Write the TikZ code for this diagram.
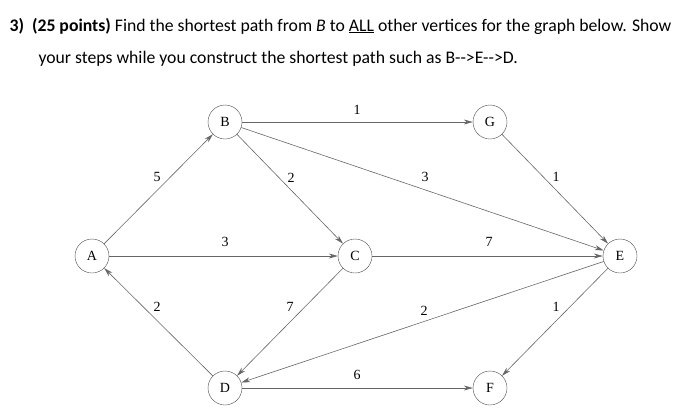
\documentclass[tikz,border=0pt]{standalone}
\usepackage{fontspec}
\setmainfont{Liberation Serif}
\newfontfamily\qfont{Carlito}
\usetikzlibrary{arrows.meta}
\begin{document}
\begin{tikzpicture}[x=1pt,y=-1pt,
 vtx/.style={circle,draw=black!70,minimum size=34pt,inner sep=0pt,font=\fontsize{14}{14}\selectfont,fill=white},
 edge/.style={draw=black!60,line width=0.6pt,-{Stealth[length=9pt,width=5pt,fill=black!60]}},
 wt/.style={font=\fontsize{14}{14}\selectfont}]
\useasboundingbox (0,0) rectangle (699,413);
\node[anchor=west,font=\qfont\fontsize{17.7}{17.7}\selectfont] (q1) at (6,26) {\textbf{3)\ \ (25 points)} Find the shortest path from \textit{B} to \underline{ALL} other vertices for the graph below. Show};
\node[anchor=west,font=\qfont\fontsize{17.7}{17.7}\selectfont] (q2) at (35,59) {your steps while you construct the shortest path such as B-->E-->D.};
\node[vtx] (A) at (92,256) {A};
\node[vtx] (B) at (225,122) {B};
\node[vtx] (G) at (490,122) {G};
\node[vtx] (C) at (355,256) {C};
\node[vtx] (E) at (620,256) {E};
\node[vtx] (D) at (225,388) {D};
\node[vtx] (F) at (490,388) {F};
\draw[edge] (A) -- (B);
\draw[edge] (B) -- (G);
\draw[edge] (B) -- (C);
\draw[edge] (B) -- (E);
\draw[edge] (G) -- (E);
\draw[edge] (A) -- (C);
\draw[edge] (C) -- (E);
\draw[edge] (D) -- (A);
\draw[edge] (C) -- (D);
\draw[edge] (E) -- (D);
\draw[edge] (E) -- (F);
\draw[edge] (D) -- (F);
\node[wt] (w1) at (157,177) {5};
\node[wt] (w2) at (357,110) {1};
\node[wt] (w3) at (291,178) {2};
\node[wt] (w4) at (425,177) {3};
\node[wt] (w5) at (556,177) {1};
\node[wt] (w6) at (225,242) {3};
\node[wt] (w7) at (489,242) {7};
\node[wt] (w8) at (157,307) {2};
\node[wt] (w9) at (290,307) {7};
\node[wt] (w10) at (424,311) {2};
\node[wt] (w11) at (556,307) {1};
\node[wt] (w12) at (357,375) {6};
\end{tikzpicture}
\end{document}
